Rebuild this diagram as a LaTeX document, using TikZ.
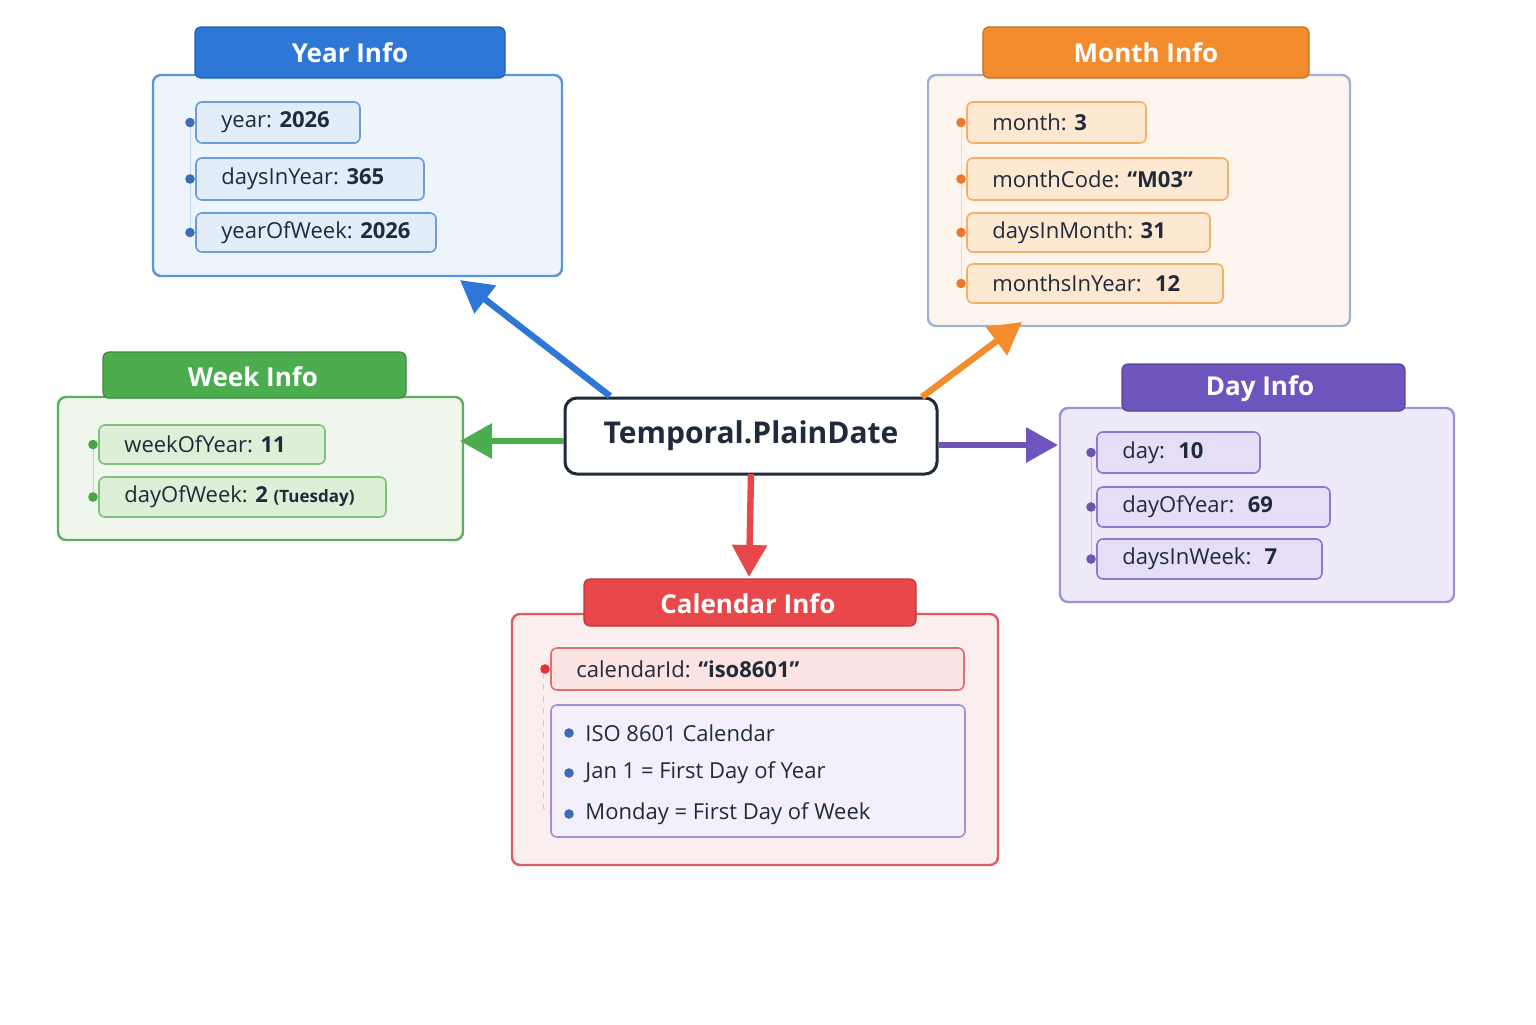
\documentclass[tikz,border=0pt]{standalone}
\usepackage{fontspec}
\setmainfont{Open Sans}
\usetikzlibrary{arrows.meta}
\definecolor{bH}{HTML}{2E77D6}\definecolor{bP}{HTML}{EEF4FC}\definecolor{bB}{HTML}{5A95DC}\definecolor{bI}{HTML}{E3ECF9}\definecolor{bIB}{HTML}{6D9BDB}\definecolor{bD}{HTML}{3D6DB5}
\definecolor{oH}{HTML}{F28C2C}\definecolor{oP}{HTML}{FDF5EE}\definecolor{oB}{HTML}{9DB3D3}\definecolor{oI}{HTML}{FDE8D2}\definecolor{oIB}{HTML}{F3AE6A}\definecolor{oD}{HTML}{E87A2E}
\definecolor{gH}{HTML}{4CAD4F}\definecolor{gP}{HTML}{EFF7EC}\definecolor{gB}{HTML}{5FAD63}\definecolor{gI}{HTML}{DDF0D7}\definecolor{gIB}{HTML}{7CC27A}\definecolor{gD}{HTML}{4AA24C}
\definecolor{pH}{HTML}{6E55BD}\definecolor{pP}{HTML}{EFEAFA}\definecolor{pB}{HTML}{A28FD6}\definecolor{pI}{HTML}{E5DEF6}\definecolor{pIB}{HTML}{8C78CF}\definecolor{pD}{HTML}{6A55B0}
\definecolor{rH}{HTML}{E8484A}\definecolor{rP}{HTML}{FBEEEF}\definecolor{rB}{HTML}{E05A5E}\definecolor{rI}{HTML}{FCE4E2}\definecolor{rIB}{HTML}{E07070}\definecolor{rD}{HTML}{E0343A}
\definecolor{ink}{HTML}{1F2A3A}
\tikzset{
 panel/.style={line width=1.2pt,rounded corners=4pt},
 head/.style={rounded corners=3pt,draw=#1!80!black,line width=0.6pt,fill=#1},
 htext/.style={text=white,font=\fontsize{13}{15}\selectfont\bfseries},
 fbox/.style={line width=0.8pt,rounded corners=3pt},
 ftext/.style={anchor=west,text=ink,font=\fontsize{11}{13}\selectfont,inner sep=0pt},
 arr/.style={line width=3.2pt,-{Triangle[length=16pt,width=17pt]}},
}
\newcommand\fieldbox[8]{% name, prefix, x1,y1,x2,y2,dotx,text
 \path[fbox,fill=#2I,draw=#2IB] (#3,#4) rectangle (#5,#6);
 \node[ftext] (#1) at ({#3+25},{(#4+#6)/2}) {#8};
 \fill[#2D] (#7,{(#4+#6)/2}) circle (2.4pt);}
\begin{document}
\begin{tikzpicture}[x=0.5pt,y=-0.5pt]
\useasboundingbox[fill=white] (0,0) rectangle (1536,1024);
% Year
\path[panel,fill=bP,draw=bB] (153,75) rectangle (562,276);
\path[head=bH] (195,27) rectangle (505,78);
\node[htext] (yh) at (350,53) {Year Info};
\draw[bB!40,line width=0.5pt] (190,123) -- (190,233);
\fieldbox{y1}{b}{196}{102}{360}{143}{190}{year: \textbf{2026}}
\fieldbox{y2}{b}{196}{158}{424}{200}{190}{daysInYear: \textbf{365}}
\fieldbox{y3}{b}{196}{213}{436}{252}{190}{yearOfWeek: \textbf{2026}}
% Month
\path[panel,fill=oP,draw=oB] (928,75) rectangle (1350,326);
\path[head=oH] (983,27) rectangle (1309,78);
\node[htext] (mh) at (1146,53) {Month Info};
\draw[oIB!50,line width=0.5pt] (961,123) -- (961,284);
\fieldbox{m1}{o}{967}{102}{1146}{143}{961}{month: \textbf{3}}
\fieldbox{m2}{o}{967}{158}{1228}{200}{961}{monthCode: \textbf{“M03”}}
\fieldbox{m3}{o}{967}{213}{1210}{252}{961}{daysInMonth: \textbf{31}}
\fieldbox{m4}{o}{967}{264}{1223}{303}{961}{monthsInYear: \ \textbf{12}}
% Week
\path[panel,fill=gP,draw=gB] (58,397) rectangle (463,540);
\path[head=gH] (103,352) rectangle (406,398);
\node[htext] (wh) at (253,377) {Week Info};
\draw[gIB!50,line width=0.5pt] (93,445) -- (93,497);
\fieldbox{w1}{g}{99}{425}{325}{464}{93}{weekOfYear: \textbf{11}}
\fieldbox{w2}{g}{99}{477}{386}{517}{93}{dayOfWeek: \textbf{2} {\fontsize{8.5}{10}\selectfont\bfseries(Tuesday)}}
% Day
\path[panel,fill=pP,draw=pB] (1060,408) rectangle (1454,602);
\path[head=pH] (1122,364) rectangle (1405,411);
\node[htext] (dh) at (1260,389) {Day Info};
\draw[pIB!50,line width=0.5pt] (1091,453) -- (1091,560);
\fieldbox{d1}{p}{1097}{432}{1260}{473}{1091}{day: \ \textbf{10}}
\fieldbox{d2}{p}{1097}{487}{1330}{527}{1091}{dayOfYear: \ \textbf{69}}
\fieldbox{d3}{p}{1097}{539}{1322}{579}{1091}{daysInWeek: \ \textbf{7}}
% Calendar
\path[panel,fill=rP,draw=rB] (512,614) rectangle (998,865);
\path[head=rH] (584,579) rectangle (916,626);
\node[htext] (ch) at (748,604) {Calendar Info};
\draw[rIB!50,line width=0.5pt,dashed] (543,672) -- (543,808) -- (551,808);
\fieldbox{c1}{r}{551}{648}{964}{690}{545}{calendarId: \textbf{“iso8601”}}
\path[fbox,fill=pP!70!white,draw=pB] (551,705) rectangle (965,837);
\foreach \yy/\tt/\nm in {733/ISO 8601 Calendar/l1,773/Jan 1 = First Day of Year/l2,814/Monday = First Day of Week/l3}{
 \fill[bD] (569,\yy) circle (2.4pt);
 \node[ftext] (\nm) at (585,\yy) {\tt};}
% Center
\node[draw=ink,line width=1.5pt,fill=white,rounded corners=6pt,minimum width=186pt,minimum height=38pt,text=ink,font=\fontsize{15}{18}\selectfont\bfseries] (c) at (751,436) {Temporal.PlainDate};
% arrows
\coordinate (ya) at (460,280);\coordinate (ys) at (610,396);
\coordinate (ma) at (1022,322);\coordinate (ms) at (922,397);
\coordinate (wa) at (460,441);\coordinate (da) at (1058,445);\coordinate (ca) at (749,577);
\draw[arr,bH] (ys) -- (ya);
\draw[arr,oH] (ms) -- (ma);
\draw[arr,gH] (c.west|-wa) -- (wa);
\draw[arr,pH] (c.east|-da) -- (da);
\draw[arr,rH] (c.south|-0,474) -- (ca);
\end{tikzpicture}
\end{document}
